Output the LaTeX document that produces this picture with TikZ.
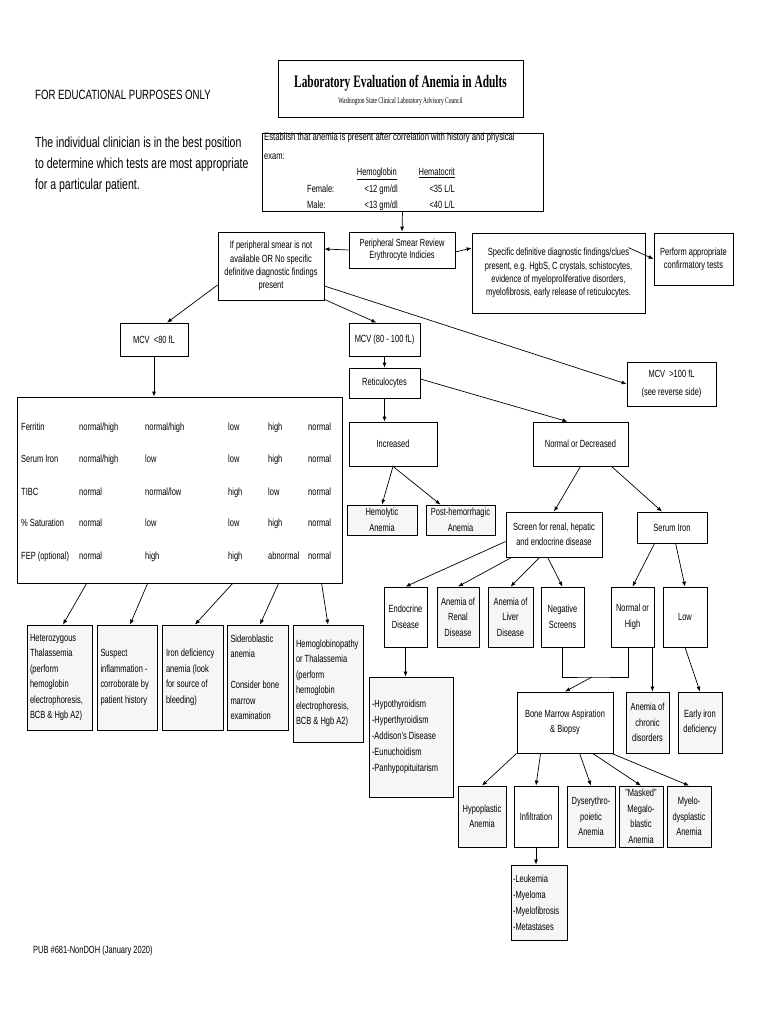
\documentclass[tikz,border=0pt]{standalone}
\usepackage{fontspec}
\setmainfont{Liberation Sans}[FakeStretch=0.72]
\newfontfamily\titlefont{Liberation Serif}[FakeStretch=0.65]
\usetikzlibrary{arrows.meta,shadows,calc}
\tikzset{
 box/.style={draw=black,line width=0.8pt,fill=white,inner sep=1pt,align=center,
   font=\fontsize{10.4}{15.5}\selectfont,
   drop shadow={shadow xshift=1.2pt,shadow yshift=-1.2pt,fill=black!55,opacity=1}},
 gbox/.style={fill=gray!7},
 tight/.style={font=\fontsize{10.4}{13.3}\selectfont},
 lbox/.style={align=flush left},
 arr/.style={-{Latex[length=5pt,width=4pt]},line width=0.7pt},
 ln/.style={line width=0.7pt},
 txt/.style={inner sep=0pt,anchor=west,text height=7.5pt,text depth=2.2pt,font=\fontsize{10.4}{13}\selectfont},
}
\newcommand\mybox[7][]{%
 \pgfmathsetmacro\bxw{#5-#3}%
 \pgfmathsetmacro\bxh{#6-#4}%
 \pgfmathsetmacro\bxcx{(#3+#5)/2}%
 \pgfmathsetmacro\bxcy{(#4+#6)/2}%
 \node[box,minimum width=\bxw pt,minimum height=\bxh pt,#1] (#2) at (\bxcx,\bxcy) {#7};}
\begin{document}
\begin{tikzpicture}[x=1pt,y=-1pt]
\fill[white] (0,0) rectangle (768,1024);
\useasboundingbox (0,0) rectangle (768,1024);

% header texts
\node[txt,font=\fontsize{13.4}{16}\selectfont] (edu) at (35,97) {FOR EDUCATIONAL PURPOSES ONLY};
\node[inner sep=0pt,anchor=west,align=left,font=\fontsize{14.6}{21}\selectfont] (clin) at (35,165) {The individual clinician is in the best position\\ to determine which tests are most appropriate\\ for a particular patient.};

\mybox{tbox}{278}{60}{523}{117}{}
\node[inner sep=0pt,font=\titlefont\bfseries\fontsize{17.5}{20}\selectfont] (title) at (400.5,83) {Laboratory Evaluation of Anemia in Adults};
\node[inner sep=0pt,font=\titlefont\fontsize{8.5}{10}\selectfont] (sub) at (400.5,101) {Washington State Clinical Laboratory Advisory Council};

% establish box
\mybox{est}{262}{133}{543}{211}{}
\node[txt,font=\fontsize{10.7}{13}\selectfont] (e1) at (264,138) {Establish that anemia is present after correlation with history and physical};
\node[txt] (e2) at (264,157) {exam:};
\node[txt,anchor=east] (hb) at (397,173) {\underline{Hemoglobin}};
\node[txt,anchor=east] (hc) at (455,173) {\underline{Hematocrit}};
\node[txt] (fe) at (307,190) {Female:};
\node[txt,anchor=east] (fe1) at (398,190) {<12 gm/dl};
\node[txt,anchor=east] (fe2) at (455,190) {<35 L/L};
\node[txt] (ma) at (307,206) {Male:};
\node[txt,anchor=east] (ma1) at (398,206) {<13 gm/dl};
\node[txt,anchor=east] (ma2) at (455,206) {<40 L/L};

% smear row
\mybox[font=\fontsize{10.4}{12}\selectfont]{smear}{349}{232}{455}{268}{Peripheral Smear Review\\ Erythrocyte Indicies}
\mybox[tight]{ifb}{218}{232}{324}{300}{If peripheral smear is not\\ available OR No specific\\ definitive diagnostic findings\\ present}
\mybox[tight]{spec}{472}{233}{645}{313}{Specific definitive diagnostic findings/clues\\ present, e.g. HgbS, C crystals, schistocytes,\\ evidence of myeloproliferative disorders,\\ myelofibrosis, early release of reticulocytes.}
\mybox[tight]{perf}{654}{233}{733}{285}{Perform appropriate\\ confirmatory tests}

% MCV row
\mybox{mcv1}{120}{323}{188}{356}{MCV~ <80 fL}
\mybox{mcv2}{349}{323}{420}{356}{MCV (80 - 100 fL)}
\mybox{ret}{349}{368}{420}{398}{Reticulocytes}
\mybox[font=\fontsize{10.4}{18}\selectfont]{mcv3}{627}{362}{716}{406}{MCV~ >100 fL\\ (see reverse side)}

% table
\mybox{tbl}{17}{397}{342}{583}{}
\foreach \y/\a/\b/\c/\d/\e/\f in {
 428/Ferritin/normal\slash high/normal\slash high/low/high/normal,
 460/Serum Iron/normal\slash high/low/low/high/normal,
 493/TIBC/normal/normal\slash low/high/low/normal,
 524/\% Saturation/normal/low/low/high/normal,
 557/FEP (optional)/normal/high/high/abnormal/normal}{
 \node[txt] at (21,\y) {\a};
 \node[txt] at (79,\y) {\b};
 \node[txt] at (145,\y) {\c};
 \node[txt] at (228,\y) {\d};
 \node[txt] at (268,\y) {\e};
 \node[txt] at (308,\y) {\f};
}

% reticulocyte branch
\mybox{incr}{349}{422}{437}{466}{Increased}
\mybox{nd}{533}{422}{628}{466}{Normal or Decreased}
\mybox[gbox]{hem}{347}{505}{417}{535}{Hemolytic\\ Anemia}
\mybox[gbox]{post}{426}{505}{495}{535}{Post-hemorrhagic\\ Anemia}
\mybox[font=\fontsize{10.4}{15}\selectfont]{scr}{506}{512}{602}{557}{Screen for renal, hepatic\\ and endocrine disease}
\mybox{ser}{637}{512}{707}{543}{Serum Iron}
\mybox{endo}{384}{587}{427}{647}{Endocrine\\ Disease}
\mybox[gbox]{ren}{437}{587}{479}{647}{Anemia of\\ Renal\\ Disease}
\mybox[gbox]{liv}{488}{587}{533}{647}{Anemia of\\ Liver\\ Disease}
\mybox{neg}{541}{587}{584}{647}{Negative\\ Screens}
\mybox{nh}{611}{587}{654}{647}{Normal or\\ High}
\mybox{low}{663}{587}{707}{647}{Low}
\mybox[gbox,lbox,text width=78pt,font=\fontsize{10.4}{16}\selectfont]{hypo}{369}{677}{453}{797}{-Hypothyroidism\\ -Hyperthyroidism\\ -Addison's Disease\\ -Eunuchoidism\\ -Panhypopituitarism}
\mybox{bm}{517}{692}{613}{753}{Bone Marrow Aspiration\\ \& Biopsy}
\mybox[gbox]{chr}{626}{692}{669}{753}{Anemia of\\ chronic\\ disorders}
\mybox[gbox]{early}{678}{692}{722}{753}{Early iron\\ deficiency}
\mybox[gbox]{hypl}{458}{786}{506}{847}{Hypoplastic\\ Anemia}
\mybox{inf}{514}{786}{558}{847}{Infiltration}
\mybox[gbox]{dys}{567}{786}{615}{847}{Dyserythro-\\ poietic\\ Anemia}
\mybox[gbox]{mask}{619}{786}{663}{847}{"Masked"\\ Megalo-\\ blastic\\ Anemia}
\mybox[gbox]{mye}{667}{786}{711}{847}{Myelo-\\ dysplastic\\ Anemia}
\mybox[gbox,lbox,text width=52pt,font=\fontsize{10.4}{16}\selectfont]{leuk}{511}{865}{567}{940}{-Leukemia\\ -Myeloma\\ -Myelofibrosis\\ -Metastases}

% bottom-left results
\mybox[gbox,lbox,text width=59pt]{het}{27}{625}{92}{730}{Heterozygous\\ Thalassemia\\ (perform\\ hemoglobin\\ electrophoresis,\\ BCB \& Hgb A2)}
\mybox[gbox,lbox,text width=53pt]{sus}{97}{625}{157}{730}{Suspect\\ inflammation -\\ corroborate by\\ patient history}
\mybox[gbox,lbox,text width=53pt]{iron}{162}{625}{223}{730}{Iron deficiency\\ anemia (look\\ for source of\\ bleeding)}
\mybox[gbox,lbox,text width=54pt]{sid}{227}{625}{288}{730}{Sideroblastic\\ anemia\\[15.5pt] Consider bone\\ marrow\\ examination}
\mybox[gbox,lbox,text width=64pt]{hgp}{293}{625}{363}{742}{Hemoglobinopathy\\ or Thalassemia\\ (perform\\ hemoglobin\\ electrophoresis,\\ BCB \& Hgb A2)}

\node[txt] (pub) at (33,951) {PUB \#681-NonDOH (January 2020)};

% connectors
\draw[arr] (est.south) -- (smear.north);
\draw[arr] (smear.west) -- ([yshift=17pt]ifb.east);
\draw[arr] ([yshift=-2pt]smear.east) -- ([yshift=25pt]spec.west);
\draw[arr] ([xshift=-17pt,yshift=-15pt]spec.north east) -- (perf.west);
\draw[arr] ([yshift=-19pt]ifb.west) -- ([xshift=13pt]mcv1.north);
\draw[arr] ([yshift=1pt]ifb.south east) -- ([xshift=-8pt]mcv2.north);
\draw[arr] ([yshift=-20pt]ifb.east) -- (mcv3.west);
\draw[arr] (mcv1.south) -- (mcv1.south |- tbl.north);
\draw[arr] (mcv2.south) -- (ret.north);
\draw[arr] (ret.south) -- (ret.south |- incr.north);
\draw[arr] ([yshift=4pt]ret.east) -- ([xshift=-13pt]nd.north);
\draw[arr] (incr.south) -- (hem.north);
\draw[arr] (incr.south) -- ([xshift=-20pt]post.north);
\draw[arr] (nd.south) -- (scr.north);
\draw[arr] ([xshift=31pt]nd.south) -- ([xshift=-10pt]ser.north);
\draw[arr] ([yshift=-7pt]scr.west) -- (endo.north);
\draw[arr] ([xshift=6pt]scr.south west) -- (ren.north);
\draw[arr] ([xshift=34pt]scr.south west) -- (liv.north);
\draw[arr] ([xshift=42pt]scr.south west) -- (neg.north);
\draw[arr] ([xshift=18pt]ser.south west) -- (nh.north);
\draw[arr] ([xshift=39pt]ser.south west) -- (low.north);
\draw[arr] (endo.south) -- (endo.south |- hypo.north);
\coordinate (jn) at (592,677);
\coordinate (nhl) at ([xshift=-4pt]nh.south);
\draw[ln] (neg.south) |- (jn) -| (nhl);
\draw[arr] (jn) -- (bm.north);
\coordinate (nhr) at ([xshift=-2pt]nh.south east);
\draw[arr] (nhr) -- (nhr |- chr.north);
\draw[arr] (low.south) -- (early.north);
\draw[arr] (bm.south west) -- (hypl.north);
\draw[arr] ([xshift=24pt]bm.south west) -- (inf.north);
\draw[arr] ([xshift=63pt]bm.south west) -- (dys.north);
\draw[arr] ([xshift=76pt]bm.south west) -- (mask.north);
\draw[arr] ([xshift=95pt]bm.south west) -- (mye.north);
\draw[arr] (inf.south) -- (inf.south |- leuk.north);
\draw[arr] ([xshift=70pt]tbl.south west) -- ([xshift=3.5pt]het.north);
\draw[arr] ([xshift=131pt]tbl.south west) -- ([xshift=3pt]sus.north);
\draw[arr] ([xshift=216pt]tbl.south west) -- ([xshift=2.5pt]iron.north);
\draw[arr] ([xshift=262pt]tbl.south west) -- ([xshift=2.5pt]sid.north);
\draw[arr] ([xshift=305pt]tbl.south west) -- (hgp.north);
\end{tikzpicture}
\end{document}
